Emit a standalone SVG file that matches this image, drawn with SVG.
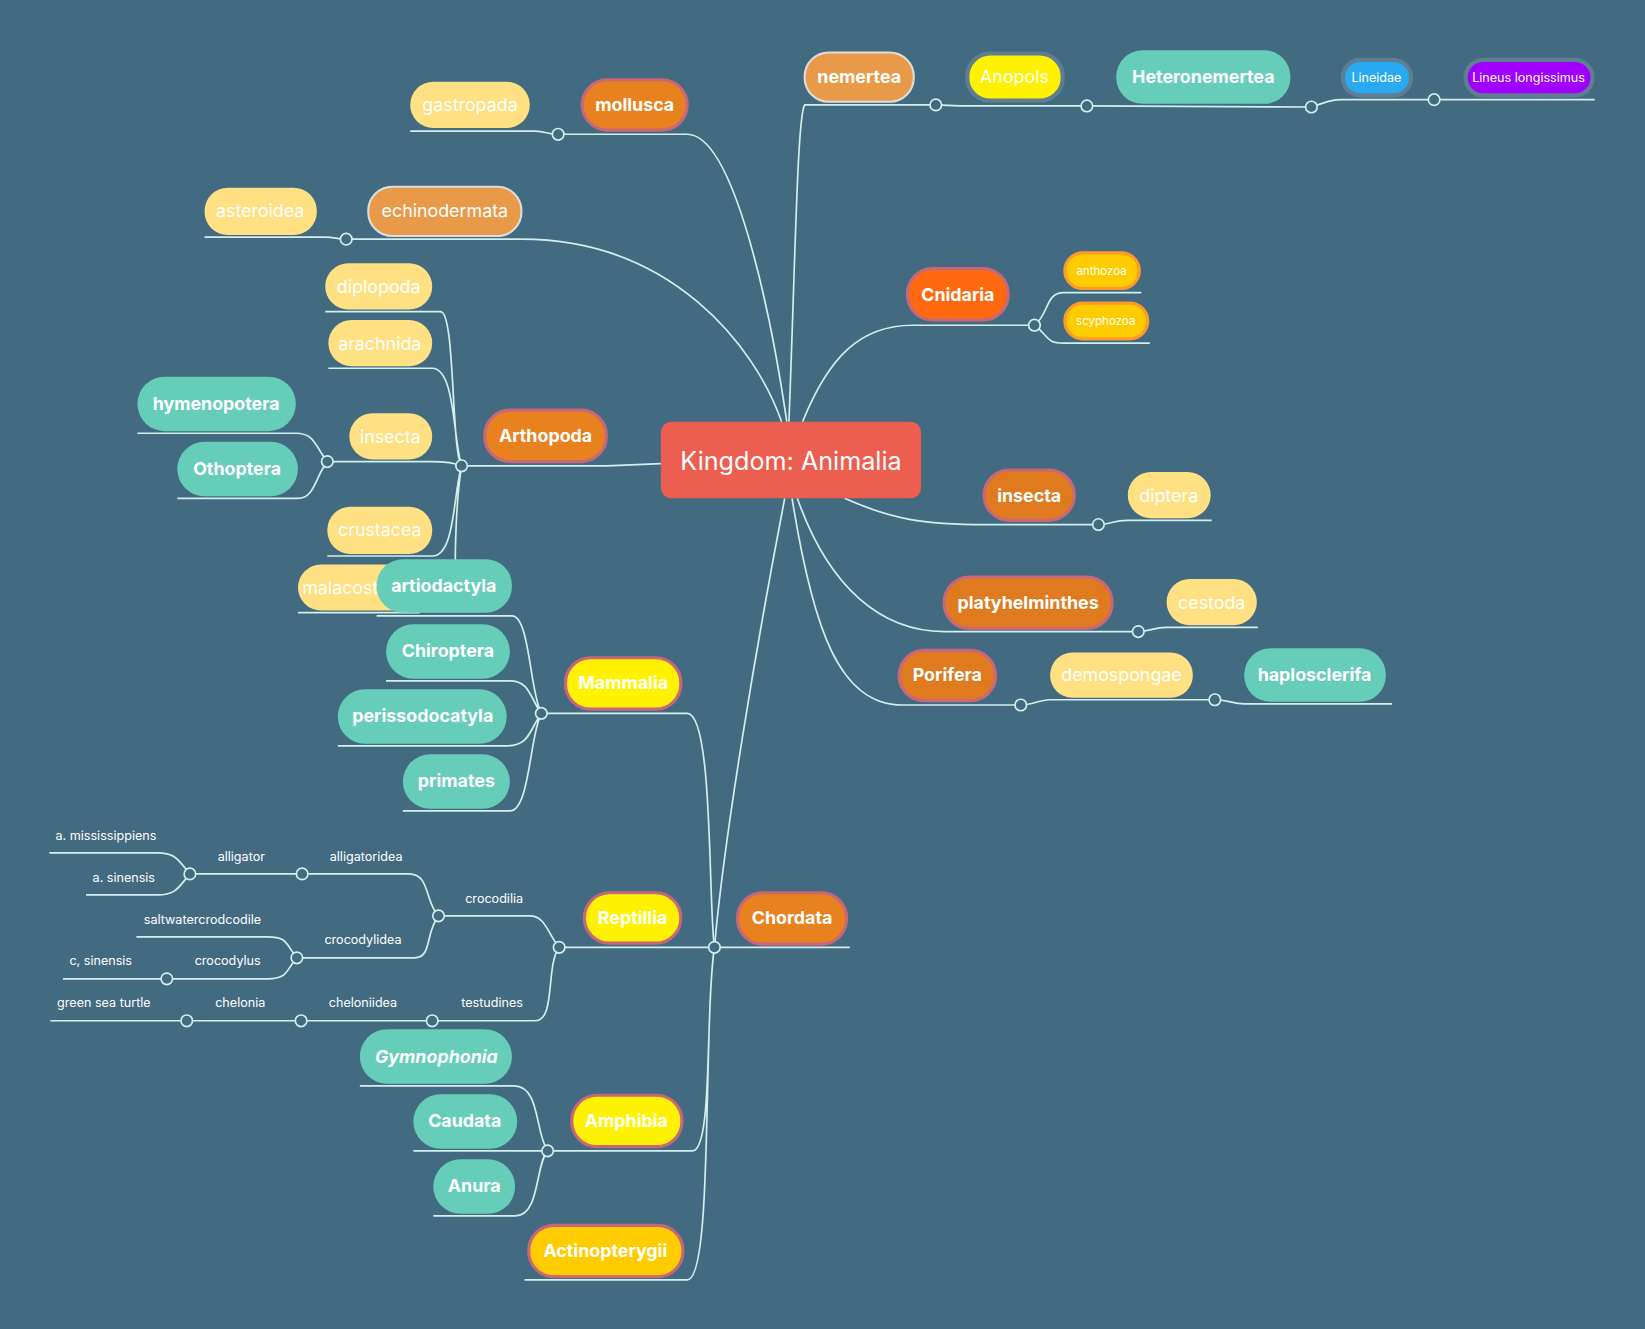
<svg xmlns="http://www.w3.org/2000/svg" width="1645" height="1329" viewBox="0 0 1645 1329">
<style>
.c{fill:none;stroke:#d4f0ec;stroke-width:1.6}
.d{fill:#426a80;stroke:#d4f0ec;stroke-width:1.6}
.t{font-family:Inter,"Noto Sans",sans-serif;fill:#fff;text-anchor:middle;dominant-baseline:central}
.b{font-weight:bold;font-size:17px}
.n{font-size:17px}
.s{font-size:12px}
.x{font-size:11px}
.o{fill:#e8821e;stroke:#c9677a;stroke-width:3}
.y{fill:#fff200;stroke:#c9677a;stroke-width:3}
.p{fill:#ffe082}
.g{fill:#66cdb8}
.l{fill:#e89a48;stroke:#ddd;stroke-width:2}
</style>
<rect width="1645" height="1329" fill="#426a80"/>
<g transform="scale(1.0491)">
<g id="connectors">
<path class="c" d="M655,128 C700,128 735,300 750,402"/>
<path class="c" d="M391,125 L510,125 C520,125 522,128 532,128 L655,128"/>
<path class="c" d="M497,228 C640,228 720,330 745,402"/>
<path class="c" d="M195,226 L310,226 C320,226 320,228 330,228 L497,228"/>
<path class="c" d="M752,402 C758,250 760,110 767,100 L892,100 L915,101 L1036,101 L1250,102 C1262,98 1268,95 1280,95 L1520,95"/>
<path class="c" d="M765,402 C790,340 820,310 870,310 L986,310"/>
<path class="c" d="M986,310 C1000,300 996,279 1014,279 L1088,279 M986,310 C1000,320 996,327 1014,327 L1096,327"/>
<path class="c" d="M805,475 C850,495 880,500 940,500 L1047,500 C1060,500 1060,496 1075,496 L1155,496"/>
<path class="c" d="M760,475 C790,560 840,602 900,602 L1085,602 C1095,602 1100,598 1112,598 L1199,598"/>
<path class="c" d="M755,475 C775,600 800,672 860,672 L973,672 C985,672 990,667 1001,667 L1158,667 C1170,667 1175,671 1186,671 L1327,671"/>
<path class="c" d="M630,442 L578,444 L440,444"/>
<path class="c" d="M440,444 C430,430 434,297 420,297 L310,297 M440,444 C432,420 434,351 412,351 L313,351 M440,444 C430,440 420,440 412,440 L312,440 M440,444 C432,470 434,530 412,530 L312,530 M440,444 C434,480 434,534 434,534"/>
<path class="c" d="M284,584 L400,584"/>
<path class="c" d="M312,440 C300,425 300,413 282,413 L131,413 M312,440 C300,455 300,475 284,475 L169,475"/>
<path class="c" d="M748,475 C720,620 690,800 681,903 L810,903"/>
<path class="c" d="M681,903 C675,860 680,680 655,680 L516,680 M681,903 L533,903 M681,903 C672,960 680,1097 660,1097 L522,1097 M681,903 C670,980 680,1220 655,1220 L500,1220"/>
<path class="c" d="M516,680 C505,660 505,587 488,587 L359,587 M516,680 C505,665 505,649 486,649 L368,649 M516,680 C505,695 505,711 483,711 L322,711 M516,680 C505,700 505,773 486,773 L384,773"/>
<path class="c" d="M522,1097 C510,1080 515,1035 490,1035 L343,1035 M522,1097 L394,1097 M522,1097 C510,1110 515,1159 491,1159 L413,1159"/>
<path class="c" d="M533,903 C522,890 520,873 505,873 L418,873 M533,903 C520,920 530,973 510,973 L412,973 L48,973"/>
<path class="c" d="M418,873 C405,860 410,833 390,833 L181,833 M418,873 C405,890 412,913 395,913 L283,913"/>
<path class="c" d="M181,833 C170,820 168,813 150,813 L47,813 M181,833 C170,846 168,853 150,853 L82,853"/>
<path class="c" d="M283,913 C272,900 275,893 255,893 L130,893 M283,913 C272,925 275,933 255,933 L60,933"/>
<circle class="d" cx="532" cy="128" r="5.5"/><circle class="d" cx="330" cy="228" r="5.5"/>
<circle class="d" cx="892" cy="100" r="5.5"/><circle class="d" cx="1036" cy="101" r="5.5"/>
<circle class="d" cx="1250" cy="102" r="5.5"/><circle class="d" cx="1367" cy="95" r="5.5"/>
<circle class="d" cx="986" cy="310" r="5.5"/><circle class="d" cx="1047" cy="500" r="5.5"/>
<circle class="d" cx="1085" cy="602" r="5.5"/><circle class="d" cx="973" cy="672" r="5.5"/>
<circle class="d" cx="1158" cy="667" r="5.5"/><circle class="d" cx="440" cy="444" r="5.5"/>
<circle class="d" cx="312" cy="440" r="5.5"/><circle class="d" cx="681" cy="903" r="5.5"/>
<circle class="d" cx="516" cy="680" r="5.5"/><circle class="d" cx="533" cy="903" r="5.5"/>
<circle class="d" cx="522" cy="1097" r="5.5"/><circle class="d" cx="418" cy="873" r="5.5"/>
<circle class="d" cx="288" cy="833" r="5.5"/><circle class="d" cx="181" cy="833" r="5.5"/>
<circle class="d" cx="283" cy="913" r="5.5"/><circle class="d" cx="159" cy="933" r="5.5"/>
<circle class="d" cx="412" cy="973" r="5.5"/><circle class="d" cx="287" cy="973" r="5.5"/>
<circle class="d" cx="178" cy="973" r="5.5"/>
</g>
<g id="root"><rect x="630" y="402" width="248" height="73" rx="10" fill="#ec5e50"/><text class="t" x="754" y="439" font-size="24">Kingdom: Animalia</text></g>
<g id="mollusca"><rect class="o" x="555" y="76" width="100" height="48" rx="24"/><text class="t b" x="605" y="100">mollusca</text></g>
<g id="gastropada"><rect class="p" x="391" y="78" width="114" height="44" rx="22"/><text class="t n" x="448" y="100">gastropada</text></g>
<g id="echinodermata"><rect class="l" x="351" y="178" width="146" height="47" rx="23"/><text class="t n" x="424" y="201">echinodermata</text></g>
<g id="asteroidea"><rect class="p" x="195" y="179" width="107" height="45" rx="22"/><text class="t n" x="248" y="201">asteroidea</text></g>
<g id="nemertea"><rect class="l" x="767" y="50" width="104" height="47" rx="23"/><text class="t b" x="819" y="73">nemertea</text></g>
<g id="anopols"><rect x="922" y="51" width="91" height="45" rx="22" fill="#fff200" stroke="#607e92" stroke-width="4"/><text class="t n" x="967" y="73">Anopols</text></g>
<g id="heteronemertea"><rect class="g" x="1064" y="48" width="166" height="51" rx="25"/><text class="t b" x="1147" y="73">Heteronemertea</text></g>
<g id="lineidae"><rect x="1280" y="57" width="65" height="34" rx="17" fill="#29aaf0" stroke="#607e92" stroke-width="4"/><text class="t s" x="1312" y="74">Lineidae</text></g>
<g id="lineus"><rect x="1397" y="57" width="121" height="34" rx="17" fill="#a000ff" stroke="#607e92" stroke-width="4"/><text class="t s" x="1457" y="74">Lineus longissimus</text></g>
<g id="cnidaria"><rect x="865" y="256" width="96" height="49" rx="24" fill="#ff6a10" stroke="#c9677a" stroke-width="3"/><text class="t b" x="913" y="281">Cnidaria</text></g>
<g id="anthozoa"><rect x="1015" y="241" width="71" height="34" rx="17" fill="#ffcc00" stroke="#ff9a2a" stroke-width="3"/><text class="t x" x="1050" y="258">anthozoa</text></g>
<g id="scyphozoa"><rect x="1015" y="289" width="79" height="34" rx="17" fill="#ffcc00" stroke="#ff9a2a" stroke-width="3"/><text class="t x" x="1054" y="306">scyphozoa</text></g>
<g id="insecta-r"><rect x="938" y="448" width="86" height="48" rx="24" fill="#e07a1e" stroke="#c9677a" stroke-width="3"/><text class="t b" x="981" y="472">insecta</text></g>
<g id="diptera"><rect class="p" x="1075" y="450" width="79" height="44" rx="22"/><text class="t n" x="1114" y="472">diptera</text></g>
<g id="platyhelminthes"><rect x="900" y="550" width="160" height="49" rx="24" fill="#e07a1e" stroke="#c9677a" stroke-width="3"/><text class="t b" x="980" y="574">platyhelminthes</text></g>
<g id="cestoda"><rect class="p" x="1112" y="552" width="86" height="44" rx="22"/><text class="t n" x="1155" y="574">cestoda</text></g>
<g id="porifera"><rect x="857" y="620" width="92" height="48" rx="24" fill="#e07a1e" stroke="#c9677a" stroke-width="3"/><text class="t b" x="903" y="643">Porifera</text></g>
<g id="demospongae"><rect class="p" x="1001" y="622" width="136" height="43" rx="21"/><text class="t n" x="1069" y="643">demospongae</text></g>
<g id="haplosclerifa"><rect class="g" x="1186" y="618" width="135" height="51" rx="25"/><text class="t b" x="1253" y="643">haplosclerifa</text></g>
<g id="arthopoda"><rect class="o" x="462" y="391" width="116" height="49" rx="24"/><text class="t b" x="520" y="415">Arthopoda</text></g>
<g id="diplopoda"><rect class="p" x="310" y="251" width="102" height="44" rx="22"/><text class="t n" x="361" y="273">diplopoda</text></g>
<g id="arachnida"><rect class="p" x="313" y="305" width="99" height="44" rx="22"/><text class="t n" x="362" y="327">arachnida</text></g>
<g id="insecta-l"><rect class="p" x="333" y="394" width="79" height="44" rx="22"/><text class="t n" x="372" y="416">insecta</text></g>
<g id="hymenopotera"><rect class="g" x="131" y="359" width="151" height="52" rx="26"/><text class="t b" x="206" y="385">hymenopotera</text></g>
<g id="othoptera"><rect class="g" x="169" y="421" width="115" height="52" rx="26"/><text class="t b" x="226" y="447">Othoptera</text></g>
<g id="crustacea"><rect class="p" x="312" y="483" width="100" height="45" rx="22"/><text class="t n" x="362" y="505">crustacea</text></g>
<g id="malacostraca"><rect class="p" x="284" y="538" width="116" height="44" rx="22"/><text class="t n" x="342" y="560">malacostraca</text></g>
<g id="chordata"><rect class="o" x="703" y="851" width="104" height="49" rx="24"/><text class="t b" x="755" y="875">Chordata</text></g>
<g id="mammalia"><rect class="y" x="539" y="627" width="110" height="49" rx="24"/><text class="t b" x="594" y="651">Mammalia</text></g>
<g id="artiodactyla"><rect class="g" x="359" y="533" width="129" height="51" rx="25"/><text class="t b" x="423" y="558">artiodactyla</text></g>
<g id="chiroptera"><rect class="g" x="368" y="595" width="118" height="52" rx="26"/><text class="t b" x="427" y="620">Chiroptera</text></g>
<g id="perissodocatyla"><rect class="g" x="322" y="657" width="161" height="52" rx="26"/><text class="t b" x="403" y="682">perissodocatyla</text></g>
<g id="primates"><rect class="g" x="384" y="719" width="102" height="52" rx="26"/><text class="t b" x="435" y="744">primates</text></g>
<g id="reptillia"><rect class="y" x="557" y="851" width="92" height="48" rx="24"/><text class="t b" x="603" y="875">Reptillia</text></g>
<g id="amphibia"><rect class="y" x="545" y="1044" width="105" height="49" rx="24"/><text class="t b" x="597" y="1068">Amphibia</text></g>
<g id="gymnophonia"><rect class="g" x="343" y="981" width="145" height="52" rx="26"/><text class="t b" x="416" y="1007" font-style="italic">Gymnophonia</text></g>
<g id="caudata"><rect class="g" x="394" y="1043" width="99" height="52" rx="26"/><text class="t b" x="443" y="1068">Caudata</text></g>
<g id="anura"><rect class="g" x="413" y="1105" width="78" height="52" rx="26"/><text class="t b" x="452" y="1130">Anura</text></g>
<g id="actinopterygii"><rect x="504" y="1168" width="147" height="49" rx="24" fill="#ffcc00" stroke="#c9677a" stroke-width="3"/><text class="t b" x="577" y="1192">Actinopterygii</text></g>
<g id="labels" class="t s">
<text x="101" y="796">a. mississippiens</text><text x="118" y="836">a. sinensis</text>
<text x="230" y="816">alligator</text><text x="349" y="816">alligatoridea</text>
<text x="471" y="856">crocodilia</text><text x="193" y="876">saltwatercrodcodile</text>
<text x="346" y="896">crocodylidea</text><text x="96" y="916">c, sinensis</text>
<text x="217" y="916">crocodylus</text><text x="99" y="956">green sea turtle</text>
<text x="229" y="956">chelonia</text><text x="346" y="956">cheloniidea</text>
<text x="469" y="956">testudines</text>
</g>
</g>
</svg>
